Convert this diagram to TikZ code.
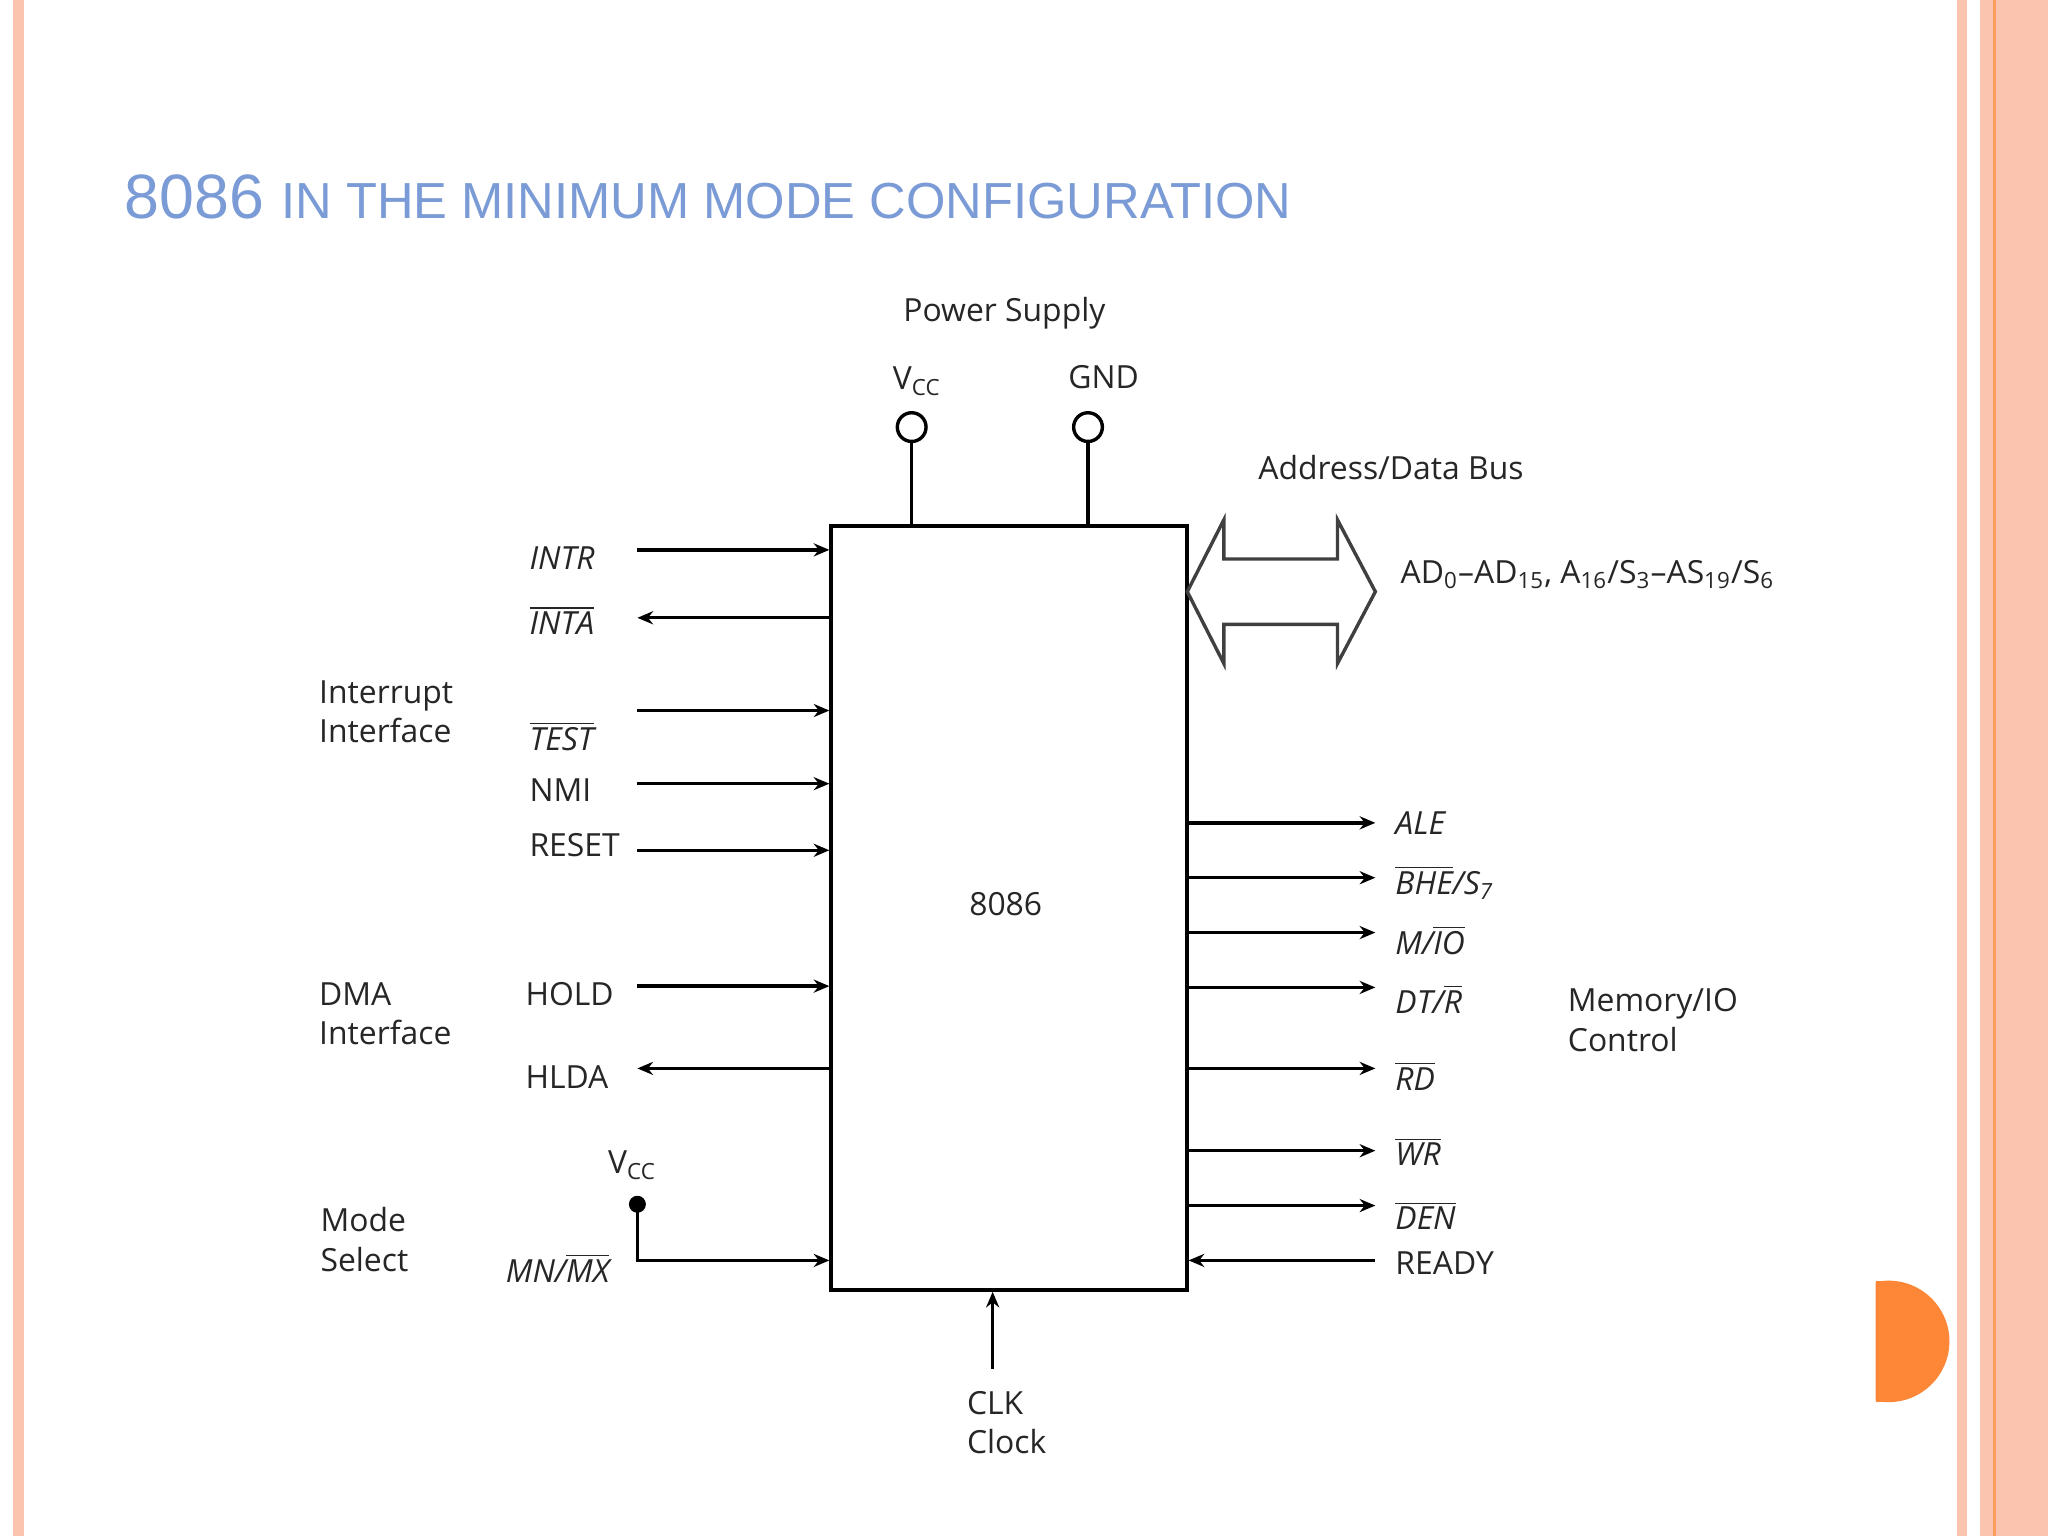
\documentclass[tikz,border=0pt]{standalone}
\usepackage{fontspec}
\setmainfont{Open Sans}
\newfontfamily\titlefont{Liberation Sans}
\usetikzlibrary{arrows.meta}
\definecolor{salmon}{HTML}{FAC4AE}
\definecolor{orng}{HTML}{FD8637}
\definecolor{ttl}{HTML}{7A9BD6}
\begin{document}
\begin{tikzpicture}[x=0.5pt,y=-0.5pt,
 lbl/.style={font=\fontsize{12.2}{15}\selectfont\color{black!85},inner sep=0pt,anchor=west},
 sig/.style={->,>={Stealth[length=6pt,width=5pt]},line width=1.3pt},
 txt/.style={lbl,align=left}]
\useasboundingbox (0,0) rectangle (1568,1176);
\fill[white] (0,0) rectangle (1568,1176);
% borders
\fill[salmon] (10,0) rectangle (18,1176);
\fill[salmon] (1498,0) rectangle (1506,1176);
\fill[salmon] (1516,0) rectangle (1568,1176);
\draw[orng!80,line width=0.8pt] (1527,0) -- (1527,1176);
\begin{scope}
\clip (1436,970) rectangle (1500,1085);
\fill[orng] (1446,1027) circle (46.5);
\fill[orng] (1436,980.5) rectangle (1446,1073.5);
\end{scope}
% title
\node[anchor=base west,inner sep=0pt,text=ttl,font=\titlefont] (title) at (95,167)
 {\fontsize{24}{28}\selectfont 8086 \fontsize{19.4}{22}\selectfont IN THE MINIMUM MODE CONFIGURATION};
% box
\node[draw,line width=1.5pt,minimum width=136pt,minimum height=292.5pt,inner sep=0pt,anchor=north west] (cpu) at (635,401) {};
\node[lbl,anchor=center] (cpul) at (770,692) {8086};
% power
\node[lbl,anchor=center] (ps) at (769,240) {Power Supply};
\node[draw,circle,line width=1.3pt,minimum size=11pt,inner sep=0pt] (vcc) at (698,327) {};
\node[draw,circle,line width=1.3pt,minimum size=11pt,inner sep=0pt] (gnd) at (833,327) {};
\node[lbl,anchor=center] (vccl) at (702,292) {V\textsubscript{CC}};
\node[lbl,anchor=center] (gndl) at (845,289) {GND};
\draw[line width=1.3pt] (vcc.south) -- (vcc.south |- cpu.north);
\draw[line width=1.3pt] (gnd.south) -- (gnd.south |- cpu.north);
% left signals
\foreach \n/\y/\d in {intr/421/r,inta/473/l,test/544/r,nmi/600/r,reset/651/r,hold/755/r,hlda/818/l}{
 \coordinate (\n a) at (488,\y);
 \coordinate (\n b) at (cpu.west |- 0,\y);
}
\foreach \n in {intr,test,nmi,reset,hold} \draw[sig] (\n a) -- (\n b);
\foreach \n in {inta,hlda} \draw[sig] (\n b) -- (\n a);
\node[lbl] (l1) at (405,427) {\itshape INTR};
\node[lbl] (l2) at (405,475) {\itshape$\overline{\mbox{INTA}}$};
\node[lbl] (l3) at (405,564) {\itshape$\overline{\mbox{TEST}}$};
\node[lbl] (l4) at (405,605) {NMI};
\node[lbl] (l5) at (405,647) {RESET};
\node[lbl] (l6) at (402,761) {HOLD};
\node[lbl] (l7) at (402,825) {HLDA};
\node[txt] (ii) at (244,545) {Interrupt\\Interface};
\node[txt] (dma) at (244,776) {DMA\\Interface};
\node[txt] (ms) at (245,949) {Mode\\Select};
% mode
\fill (488,922) circle (6.5);
\coordinate (mnd) at (488,922);
\coordinate (mnb) at (cpu.west |- 0,965);
\draw[sig] (mnd) |- (mnb);
\node[lbl,anchor=center] (vcc2) at (484,892) {V\textsubscript{CC}};
\node[lbl,anchor=east] (mn) at (467,971) {\itshape MN/$\overline{\mbox{MX}}$};
% clock
\coordinate (clka) at (760,1048);
\draw[sig] (clka) -- (clka |- cpu.south);
\node[txt] (clk) at (740,1089) {CLK\\Clock};
% right signals
\foreach \n/\y in {ale/630,bhe/672,mio/714,dtr/756,rd/818,wr/881,den/923,rdy/965}{
 \coordinate (\n a) at (cpu.east |- 0,\y);
 \coordinate (\n b) at (1053,\y);
}
\foreach \n in {ale,bhe,mio,dtr,rd,wr,den} \draw[sig] (\n a) -- (\n b);
\draw[sig] (rdyb) -- (rdya);
\node[lbl] (r1) at (1068,630) {\itshape ALE};
\node[lbl] (r2) at (1068,676) {\itshape$\overline{\mbox{BHE}}$/S\textsubscript{7}};
\node[lbl] (r3) at (1068,720) {\itshape M/$\overline{\mbox{IO}}$};
\node[lbl] (r4) at (1068,765) {\itshape DT/$\overline{\mbox{R}}$};
\node[lbl] (r5) at (1068,824) {\itshape$\overline{\mbox{RD}}$};
\node[lbl] (r6) at (1068,882) {\itshape$\overline{\mbox{WR}}$};
\node[lbl] (r7) at (1068,931) {\itshape$\overline{\mbox{DEN}}$};
\node[lbl] (r8) at (1068,967) {READY};
\node[txt] (mem) at (1200,781) {Memory/IO\\Control};
% bus
\draw[line width=1.3pt,fill=white,draw=black!75] (909,453) -- (937,398) -- (937,428) -- (1024,428) -- (1024,398) -- (1053,453) -- (1024,508) -- (1024,478) -- (937,478) -- (937,508) -- cycle;
\node[lbl] (adb) at (963,358) {Address/Data Bus};
\node[lbl] (ad) at (1072,440) {AD\textsubscript{0}–AD\textsubscript{15}, A\textsubscript{16}/S\textsubscript{3}–AS\textsubscript{19}/S\textsubscript{6}};
\end{tikzpicture}
\end{document}
